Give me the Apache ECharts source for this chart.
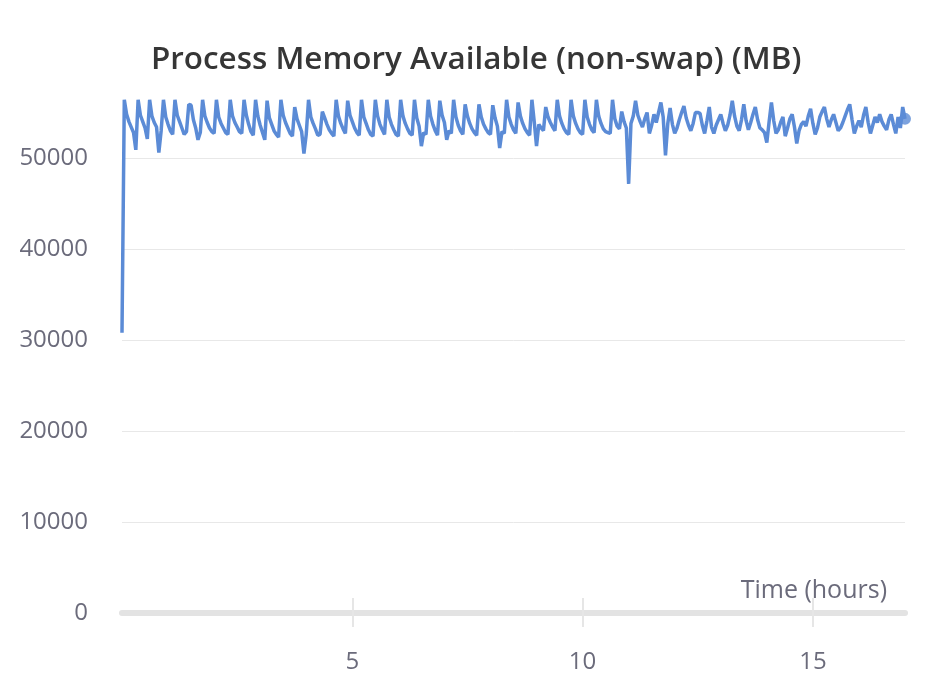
<!DOCTYPE html>
<html>
<head>
<meta charset="utf-8">
<script src="https://cdn.jsdelivr.net/npm/echarts@6/dist/echarts.min.js"></script>
<style>html,body{margin:0;padding:0;background:#fff}#c{width:935px;height:680px}</style>
</head>
<body>
<div id="c"></div>
<script>
const TITLE = 'Process Memory Available (non-swap) (MB)';
const X_NAME = 'Time (hours)';
const SAMPLE_STEP_HOURS = 0.05;
const xTickValues = [5, 10, 15];
const yTickValues = [0, 10000, 20000, 30000, 40000, 50000];
const memoryMB = [
  30800, 56400, 54800, 54000, 53400, 52800, 50900, 56400, 54700, 54000,
  53300, 52100, 56400, 54600, 53900, 53400, 50600, 53000, 56400, 54500,
  53700, 53000, 52600, 56400, 54700, 54000, 53300, 52600, 52900, 55900,
  55800, 54200, 53300, 52000, 52800, 56400, 54600, 53900, 53300, 52900,
  52700, 56400, 54500, 53800, 53300, 52800, 52600, 56400, 54600, 53900,
  53400, 52900, 52700, 56400, 54700, 53700, 52900, 52500, 56400, 54600,
  53600, 52800, 52000, 56300, 54400, 53700, 53000, 52600, 52300, 56400,
  54700, 53900, 53300, 52700, 52400, 55600, 54300, 53600, 52900, 50500,
  52600, 56400, 54500, 53800, 53200, 52500, 52600, 55100, 54400, 53700,
  53100, 52700, 52400, 56400, 54600, 53800, 53200, 52700, 56300, 54700,
  54000, 53300, 52800, 52500, 56400, 54500, 53800, 53100, 52600, 52400,
  56400, 54600, 53700, 53100, 52600, 56400, 54500, 53700, 53100, 52600,
  52400, 56400, 54600, 53800, 53200, 52700, 52500, 56400, 54400, 53500,
  51300, 52800, 52600, 56400, 54600, 53700, 53000, 52500, 56300, 54700,
  53900, 52000, 53000, 52700, 56400, 54500, 53600, 53000, 52600, 55900,
  54600, 53800, 53200, 52800, 52500, 55900, 54500, 53700, 53200, 52800,
  52600, 55800, 54400, 53500, 51100, 52900, 52700, 56400, 54500, 53700,
  53100, 52700, 56100, 54600, 53800, 53200, 52800, 52500, 56400, 54000,
  51300, 53700, 53300, 53000, 55600, 54500, 53900, 53400, 53000, 56400,
  54600, 53800, 53200, 52800, 52600, 56400, 54600, 53800, 53200, 52800,
  52600, 56400, 54500, 53700, 53100, 52800, 56400, 54600, 53800, 53200,
  52900, 52800, 52700, 56400, 54300, 53500, 53200, 55100, 54000, 53300,
  47150, 53800, 54600, 56300, 54700, 54000, 53400, 54300, 55000, 52700,
  53600, 54800, 53900, 55000, 56100, 54500, 50300, 53800, 55500, 53700,
  52700, 53300, 54200, 55000, 55700, 54400, 53600, 53000, 53800, 55000,
  55000, 54900, 53600, 52700, 54100, 55600, 53400, 52700, 53600, 54200,
  54800, 53800, 53000, 53600, 54700, 56300, 54600, 53500, 53000, 54200,
  55900, 54100, 53100, 53900, 54800, 55600, 54200, 53300, 53100, 52800,
  51700, 54000, 56100, 54100, 52700, 53100, 53900, 54500, 52400, 53300,
  54300, 54800, 53400, 51600, 53000, 53700, 54000, 53500, 54600, 55400,
  53800, 52600, 53300, 54500, 55100, 55600, 54300, 53400, 54200, 54800,
  53900, 53000, 53300, 53900, 54600, 55300, 55900, 54200, 52700, 53500,
  54100, 53400, 54700, 55600, 53900, 52700, 53600, 54500, 53900, 54800,
  54000, 53500, 53100, 54200, 54800, 53700, 52700, 54500, 53300, 55600,
  54300
];

const points = memoryMB.map((v, i) => [Math.round(i * SAMPLE_STEP_HOURS * 100) / 100, v]);
const lastPoint = points[points.length - 1];

const LINE_COLOR = '#5b8bd6';
const LABEL_COLOR = '#6b6b7b';
const FONT = "'Open Sans', 'Noto Sans', sans-serif";

const chart = echarts.init(document.getElementById('c'), null, {renderer: 'canvas'});
chart.setOption({
  animation: false,
  backgroundColor: '#fff',
  title: {
    text: TITLE,
    left: 146,
    top: 40,
    textStyle: {fontFamily: FONT, fontWeight: 600, fontSize: 31.4, color: '#363636'}
  },
  grid: {left: 122, right: 30, top: 98.85, bottom: 67},
  xAxis: [
    {
      type: 'value', min: 0, max: 17, position: 'bottom',
      axisLine: {show: true, lineStyle: {color: '#e3e3e3', width: 6}},
      axisTick: {show: true, customValues: xTickValues, length: 14, lineStyle: {color: '#e6e6e6', width: 2}},
      axisLabel: {customValues: xTickValues, margin: 37, fontSize: 24, color: LABEL_COLOR, fontFamily: FONT},
      splitLine: {show: false},
      name: X_NAME,
      nameLocation: 'end',
      nameGap: 0,
      nameTextStyle: {align: 'right', verticalAlign: 'bottom', padding: [0, 18, 10, 0], fontSize: 25, color: LABEL_COLOR, fontFamily: FONT}
    },
    {
      type: 'value', min: 0, max: 17, position: 'bottom', gridIndex: 0,
      axisLine: {show: false},
      axisTick: {show: true, inside: true, customValues: xTickValues, length: 15, lineStyle: {color: '#e6e6e6', width: 2}},
      axisLabel: {show: false},
      splitLine: {show: false}
    }
  ],
  yAxis: {
    type: 'value', min: 0, max: 56500, interval: 10000,
    axisLine: {show: false},
    axisTick: {show: false},
    axisLabel: {customValues: yTickValues, formatter: v => String(v), margin: 34, fontSize: 24, color: LABEL_COLOR, fontFamily: FONT},
    splitLine: {show: true, lineStyle: {color: ['#e8e8e8', '#e8e8e8', '#e8e8e8', '#e8e8e8', '#e8e8e8', '#e8e8e8', 'rgba(0,0,0,0)'], width: 1}}
  },
  series: [
    {
      type: 'line', data: points, showSymbol: false, xAxisIndex: 0,
      lineStyle: {color: LINE_COLOR, width: 3.5},
      itemStyle: {color: LINE_COLOR}
    },
    {
      type: 'scatter', data: [lastPoint], xAxisIndex: 0, symbolSize: 12,
      itemStyle: {color: LINE_COLOR}
    }
  ]
});
</script>
</body>
</html>
